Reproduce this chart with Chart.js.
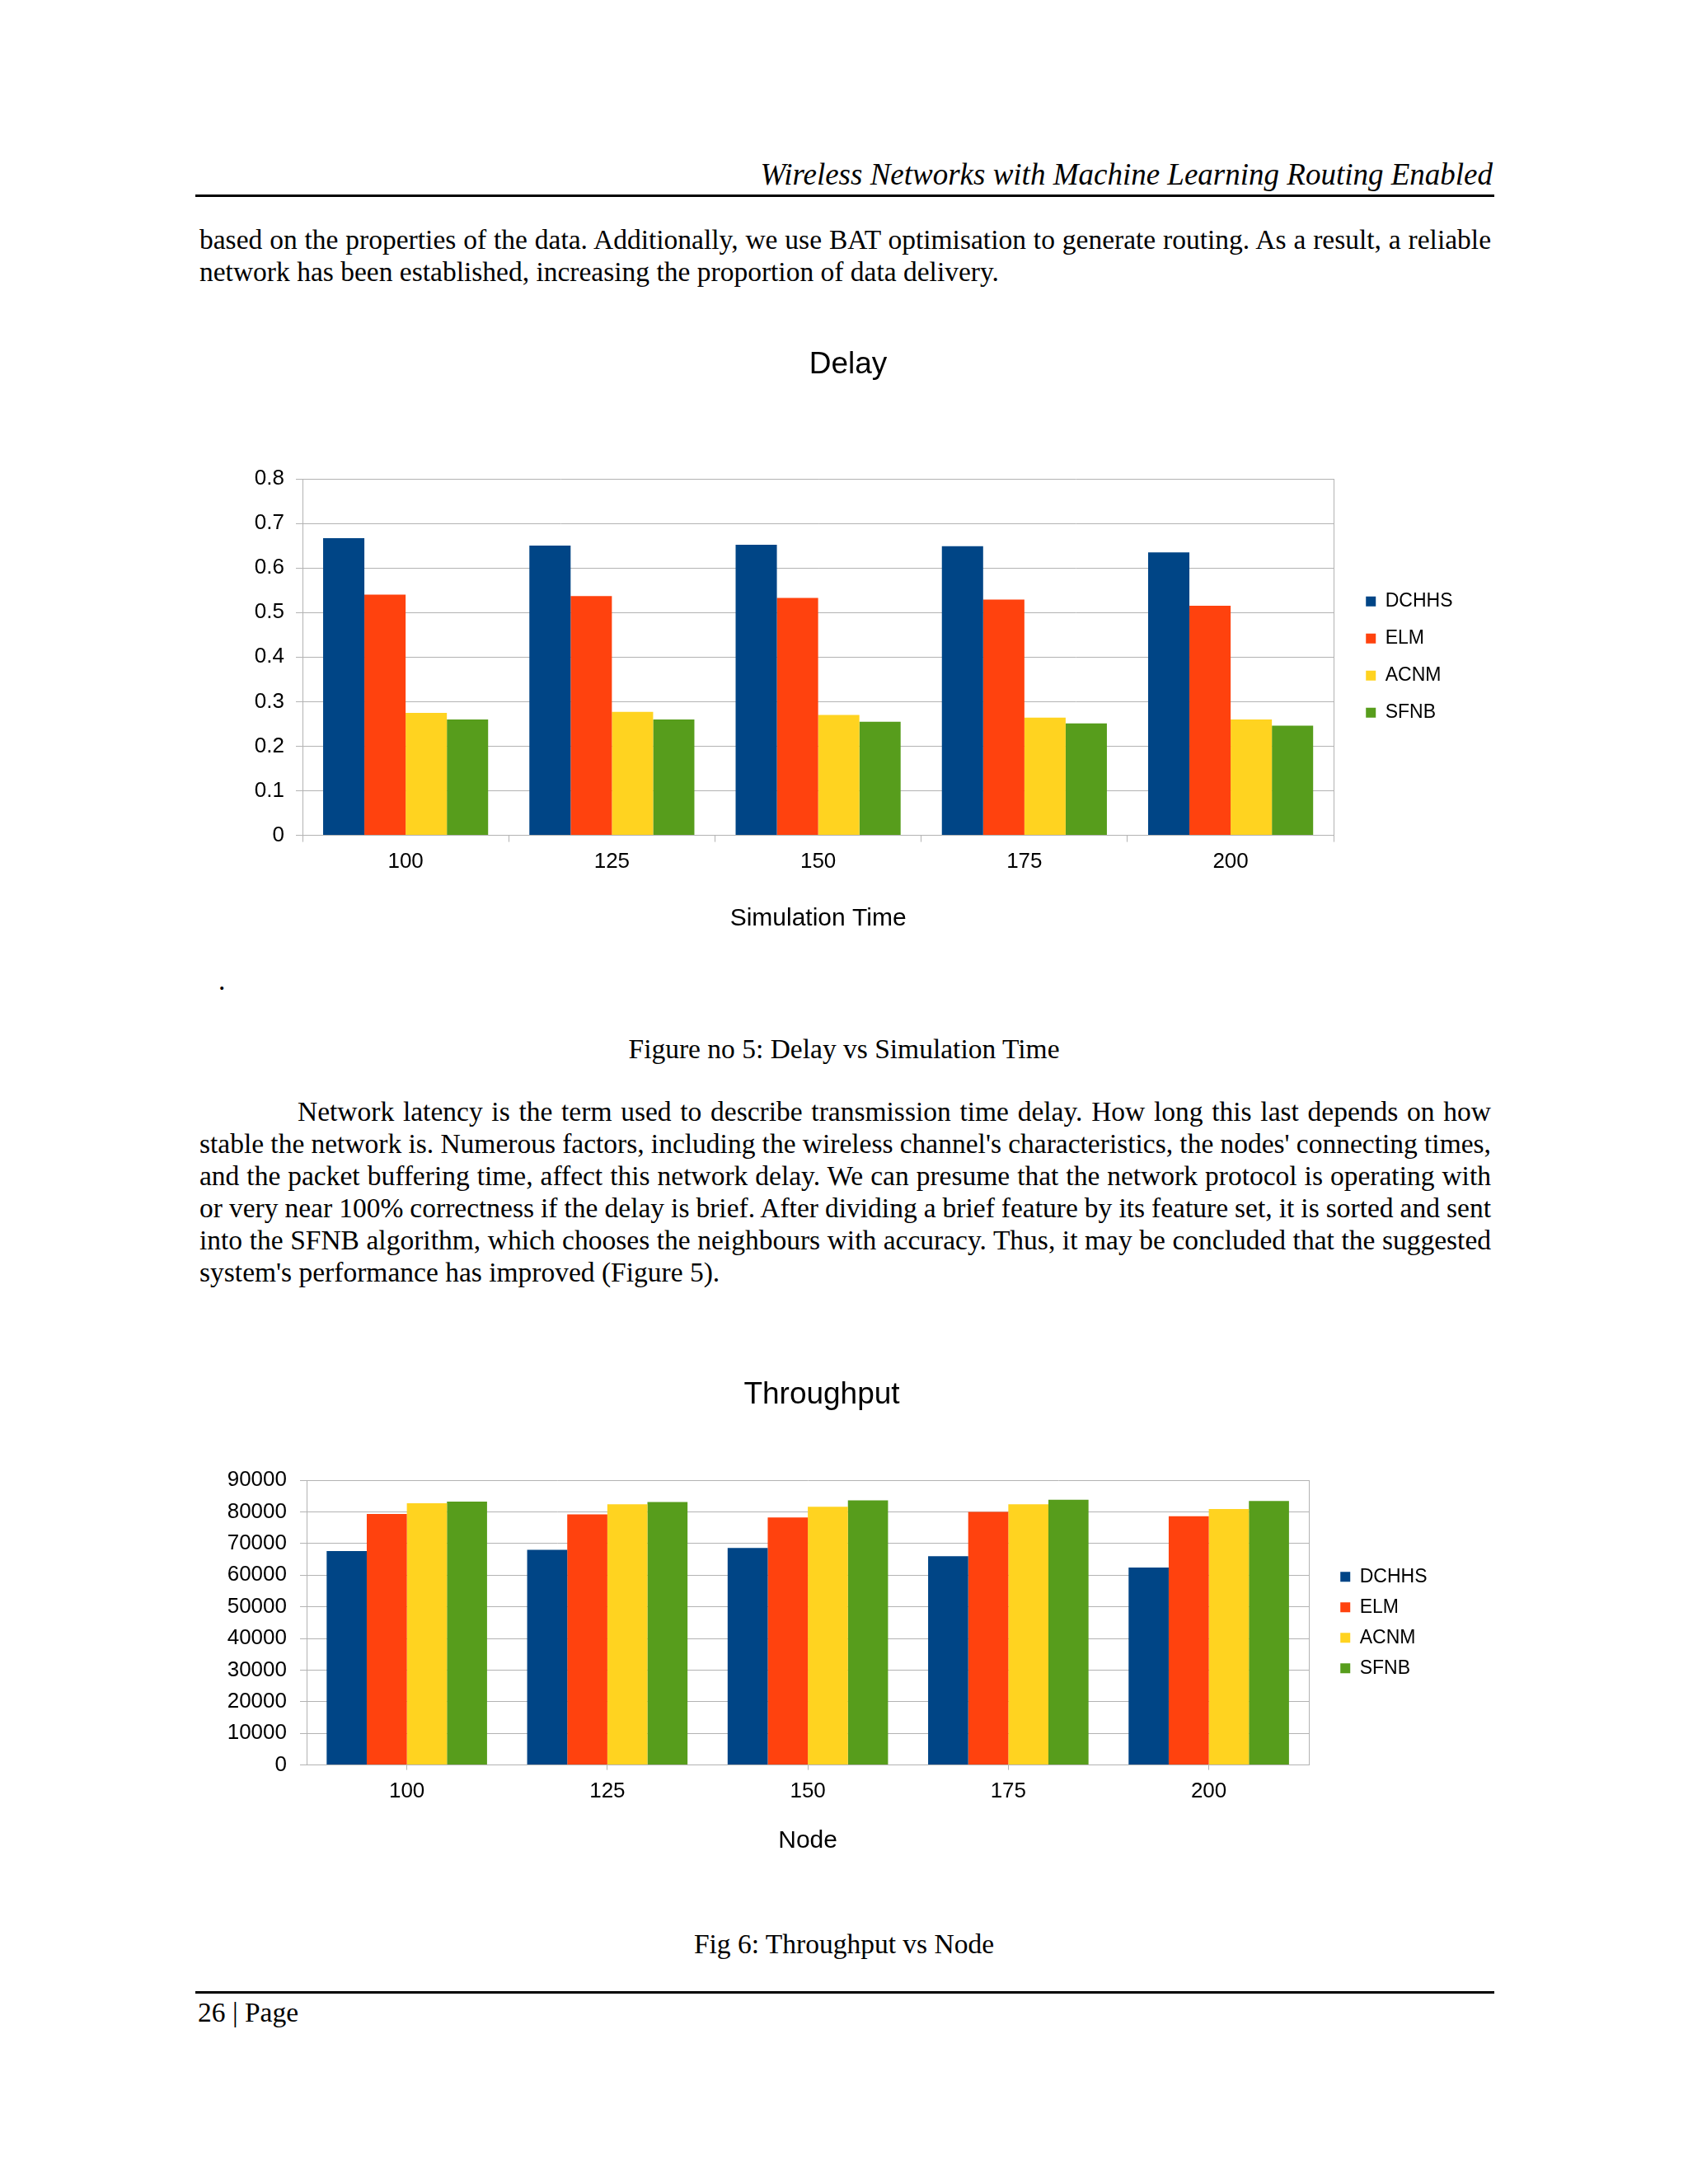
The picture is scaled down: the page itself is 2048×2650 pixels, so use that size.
<!DOCTYPE html>
<html><head><meta charset="utf-8">
<script src="https://cdn.jsdelivr.net/npm/chart.js@4.4.1/dist/chart.umd.min.js"></script>
<style>
html,body{margin:0;padding:0;background:#fff;}
body{width:2048px;height:2650px;position:relative;overflow:hidden;font-family:"Liberation Serif","Times New Roman",serif;color:#000;}
.t{position:absolute;font-size:33.5px;line-height:39px;white-space:nowrap;}
.ln{position:absolute;left:242px;width:1567px;font-size:33.5px;line-height:39px;text-align:justify;text-align-last:justify;word-spacing:-4px;}
.ln.last{text-align-last:left;word-spacing:0;}
.rule{position:absolute;left:237px;width:1576px;height:3px;background:#000;}
.cw{position:absolute;}
</style></head><body>
<div class="t" style="right:237px;top:193px;font-size:37px;line-height:37px;font-style:italic;">Wireless Networks with Machine Learning Routing Enabled</div>
<div class="rule" style="top:236px;"></div>
<div class="ln" style="top:271px;">based on the properties of the data. Additionally, we use BAT optimisation to generate routing. As a result, a reliable</div>
<div class="ln last" style="top:310px;">network has been established, increasing the proportion of data delivery.</div>

<div class="cw" style="left:250px;top:400px;width:1550px;height:743px;"><canvas id="c1"></canvas></div>

<div class="t" style="left:265px;top:1170px;">.</div>
<div class="t" style="left:0;width:2048px;text-align:center;top:1253px;">Figure no 5: Delay vs Simulation Time</div>
<div class="ln" style="top:1329px;left:361px;width:1448px;">Network latency is the term used to describe transmission time delay. How long this last depends on how</div>
<div class="ln" style="top:1368px;">stable the network is. Numerous factors, including the wireless channel's characteristics, the nodes' connecting times,</div>
<div class="ln" style="top:1407px;">and the packet buffering time, affect this network delay. We can presume that the network protocol is operating with</div>
<div class="ln" style="top:1446px;">or very near 100% correctness if the delay is brief. After dividing a brief feature by its feature set, it is sorted and sent</div>
<div class="ln" style="top:1485px;">into the SFNB algorithm, which chooses the neighbours with accuracy. Thus, it may be concluded that the suggested</div>
<div class="ln last" style="top:1524px;">system's performance has improved (Figure 5).</div>

<div class="cw" style="left:240px;top:1640px;width:1520px;height:622px;"><canvas id="c2"></canvas></div>

<div class="t" style="left:0;width:2048px;text-align:center;top:2339px;">Fig 6: Throughput vs Node</div>
<div class="rule" style="top:2416px;"></div>
<div class="t" style="left:240px;top:2422px;">26 | Page</div>

<script>
// ---- data ----
const seriesNames = ['DCHHS', 'ELM', 'ACNM', 'SFNB'];
const seriesColors = ['#004586', '#ff420e', '#ffd320', '#579d1c'];

const delayCategories = ['100', '125', '150', '175', '200'];
const delayDCHHS = [0.667, 0.650, 0.652, 0.649, 0.635];
const delayELM   = [0.540, 0.537, 0.533, 0.529, 0.515];
const delayACNM  = [0.275, 0.277, 0.270, 0.264, 0.260];
const delaySFNB  = [0.260, 0.260, 0.255, 0.251, 0.246];
const delayTickMin = 0, delayTickMax = 0.8, delayTickStep = 0.1;

const nodeCategories = ['100', '125', '150', '175', '200'];
const thrDCHHS = [67600, 68000, 68600, 66000, 62400];
const thrELM   = [79300, 79200, 78200, 80000, 78600];
const thrACNM  = [82700, 82400, 81600, 82400, 80900];
const thrSFNB  = [83200, 83100, 83600, 83800, 83400];
const thrTickMin = 0, thrTickMax = 90000, thrTickStep = 10000;

// ---- charts ----
Chart.defaults.font.family = "'Liberation Sans', Arial, sans-serif";
Chart.defaults.color = '#000';
const GRID = '#b3b3b3';

function datasets(arrs) {
  return arrs.map((d, i) => ({
    label: seriesNames[i], data: d, backgroundColor: seriesColors[i],
    borderWidth: 0, categoryPercentage: 0.8, barPercentage: 1.0
  }));
}

function makeChart(id, o) {
  return new Chart(document.getElementById(id), {
    type: 'bar',
    data: { labels: o.labels, datasets: datasets(o.series) },
    options: {
      responsive: true, maintainAspectRatio: false, animation: false,
      layout: { padding: o.layoutPad },
      plugins: {
        title: { display: true, text: o.title, color: '#000',
          font: { size: 37, weight: 'normal' }, padding: o.titlePad },
        legend: { position: 'right', fullSize: false, align: 'center',
          labels: { boxWidth: 12, boxHeight: 12, padding: o.legendPad, color: '#000', font: { size: 23 } } },
        tooltip: { enabled: false }
      },
      scales: {
        x: {
          grid: { display: true, drawOnChartArea: false, offset: o.xOffset, tickLength: o.xTickLen, color: GRID },
          border: { color: GRID },
          ticks: { padding: o.xTickPad, color: '#000', font: { size: 26 } },
          title: { display: true, text: o.xTitle, color: '#000', font: { size: 30 }, padding: o.xTitlePad }
        },
        y: {
          min: o.yMin, max: o.yMax,
          grid: { color: GRID, tickLength: 8 },
          border: { color: GRID },
          ticks: { stepSize: o.yStep, padding: o.yTickPad, color: '#000', font: { size: 26 }, callback: o.yFmt },
          afterFit: s => { s.width = o.yWidth; }
        },
        y2: {
          position: 'right', display: true,
          grid: { drawOnChartArea: false, drawTicks: false },
          ticks: { display: false },
          border: { color: GRID },
          afterFit: s => { s.width = o.y2Width; }
        }
      }
    }
  });
}

makeChart('c1', {
  labels: delayCategories,
  series: [delayDCHHS, delayELM, delayACNM, delaySFNB],
  title: 'Delay', xTitle: 'Simulation Time',
  layoutPad: { left: 35.5, right: 27.5, top: 0, bottom: 0 },
  titlePad: { top: 20.8, bottom: 115.8 },
  legendPad: 22, xOffset: true, xTickLen: 8, xTickPad: 8.2,
  xTitlePad: { top: 27.8, bottom: 10 },
  yMin: delayTickMin, yMax: delayTickMax, yStep: delayTickStep, yTickPad: 14,
  yFmt: v => String(Math.round(v * 10) / 10),
  yWidth: 81.5, y2Width: 17
});

makeChart('c2', {
  labels: nodeCategories,
  series: [thrDCHHS, thrELM, thrACNM, thrSFNB],
  title: 'Throughput', xTitle: 'Node',
  layoutPad: { left: 12.5, right: 18.5, top: 0, bottom: 0 },
  titlePad: { top: 30.8, bottom: 80.8 },
  legendPad: 14, xOffset: false, xTickLen: 6, xTickPad: 10.4,
  xTitlePad: { top: 16.4, bottom: 10 },
  yMin: thrTickMin, yMax: thrTickMax, yStep: thrTickStep, yTickPad: 16,
  yFmt: v => String(v),
  yWidth: 119.5, y2Width: 24
});
</script>
</body></html>
